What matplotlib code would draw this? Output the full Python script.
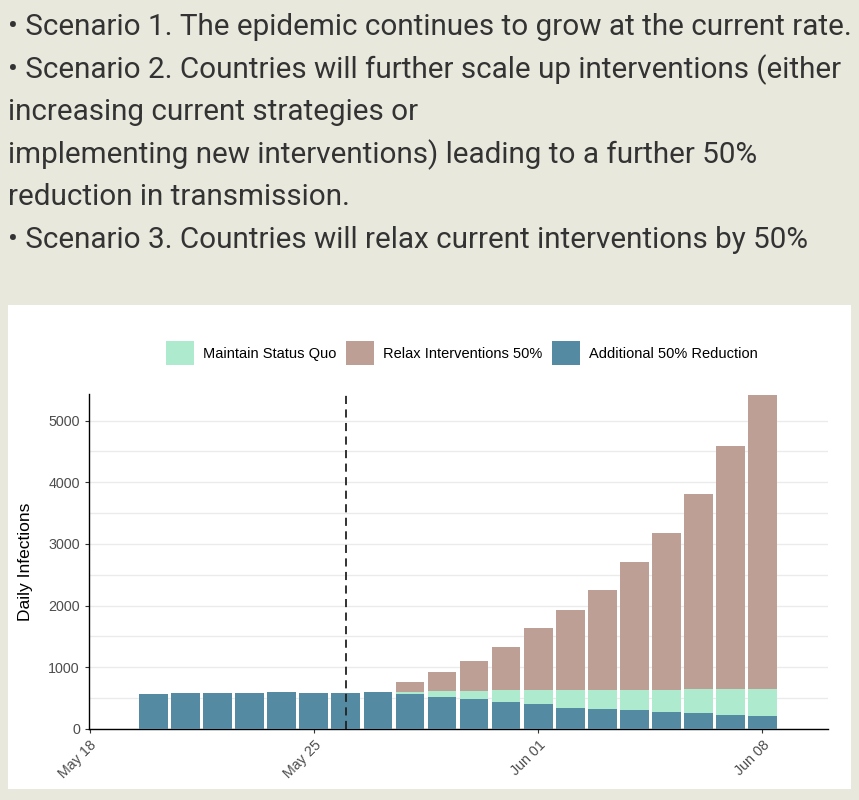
import numpy as np
import pandas as pd
import matplotlib
matplotlib.use('Agg')
import matplotlib.pyplot as plt
import matplotlib.dates as mdates
from matplotlib.patches import Rectangle

# data
dates = pd.date_range('2020-05-20', '2020-06-08', freq='D')
reduction = [570, 586, 586, 586, 597, 586, 586, 607, 573, 514, 484, 430, 409,
             344, 317, 306, 274, 263, 226, 204]
status_quo = [570, 586, 586, 586, 597, 586, 586, 607, 600, 613, 613, 629, 629,
              629, 629, 629, 629, 645, 656, 656]
relax = [570, 586, 586, 586, 597, 586, 586, 607, 755, 922, 1105, 1333, 1645,
         1925, 2253, 2704, 3183, 3817, 4591, 5409]

scenario_lines = [
    '\u2022 Scenario 1. The epidemic continues to grow at the current rate.',
    '\u2022 Scenario 2. Countries will further scale up interventions (either',
    'increasing current strategies or',
    'implementing new interventions) leading to a further 50%',
    'reduction in transmission.',
    '\u2022 Scenario 3. Countries will relax current interventions by 50%',
]

col_quo = '#AEEACE'
col_relax = '#BD9F96'
col_red = '#548BA3'
bg = '#E9E8DD'

W, H = 859, 800
fig = plt.figure(figsize=(W / 100, H / 100), dpi=100)
fig.patch.set_facecolor(bg)

# text block at the top
for i, line in enumerate(scenario_lines):
    fig.text(8 / W, 1 - (27 + i * 42.6) / H, line, fontsize=21.3,
             family='Roboto', color='#333333', va='center', ha='left')

# white panel behind the chart
fig.patches.append(Rectangle((8 / W, 1 - 789 / H), (851 - 8) / W, (789 - 305) / H,
                             transform=fig.transFigure, facecolor='white',
                             edgecolor='none', zorder=0))

ax = fig.add_axes([89 / W, 1 - 729 / H, (828 - 89) / W, (729 - 394) / H])
ax.set_zorder(2)
ax.set_facecolor('white')

x = mdates.date2num(dates)
ax.bar(x, relax, width=0.9, color=col_relax, label='Relax Interventions 50%', zorder=2)
ax.bar(x, status_quo, width=0.9, color=col_quo, label='Maintain Status Quo', zorder=3)
ax.bar(x, reduction, width=0.9, color=col_red, label='Additional 50% Reduction', zorder=4)

ax.axvline(mdates.date2num(pd.Timestamp('2020-05-26')), color='#222222',
           linestyle=(0, (4.5, 3)), linewidth=1.3, zorder=5)

ax.set_xlim(mdates.date2num(pd.Timestamp('2020-05-18')) - 0.02,
            mdates.date2num(pd.Timestamp('2020-06-10')) + 0.05)
ax.set_ylim(0, 5430)

ax.set_yticks([0, 1000, 2000, 3000, 4000, 5000])
ax.set_yticks([500, 1500, 2500, 3500, 4500], minor=True)
ax.grid(axis='y', which='both', color='#EBEBEB', linewidth=1.0, zorder=0)
ax.set_axisbelow(True)

ax.set_xticks(mdates.date2num(pd.to_datetime(['2020-05-18', '2020-05-25',
                                              '2020-06-01', '2020-06-08'])))
ax.xaxis.set_major_formatter(mdates.DateFormatter('%b %d'))
plt.setp(ax.get_xticklabels(), rotation=45, ha='right', rotation_mode='anchor')
ax.tick_params(axis='both', which='major', labelsize=10.3, labelcolor='#4D4D4D',
               color='#333333', length=3, width=0.8)
ax.tick_params(axis='y', which='minor', length=0)
for lab in ax.get_xticklabels() + ax.get_yticklabels():
    lab.set_family('Liberation Sans')

for s in ['top', 'right']:
    ax.spines[s].set_visible(False)
for s in ['left', 'bottom']:
    ax.spines[s].set_color('black')
    ax.spines[s].set_linewidth(1.0)

ax.set_ylabel('Daily Infections', fontsize=12.5, family='Liberation Sans', color='black')
ax.yaxis.set_label_coords(-0.076, 0.5)

handles, labels = ax.get_legend_handles_labels()
order = [1, 0, 2]
leg = fig.legend([handles[i] for i in order], [labels[i] for i in order],
                 loc='center', bbox_to_anchor=(462 / W, 1 - 353 / H), ncol=3,
                 frameon=False, prop={'family': 'Liberation Sans', 'size': 10.5},
                 handlelength=1.9, handleheight=2.2, columnspacing=0.7,
                 handletextpad=0.6)

fig.savefig('out.png', dpi=100, facecolor=bg)
